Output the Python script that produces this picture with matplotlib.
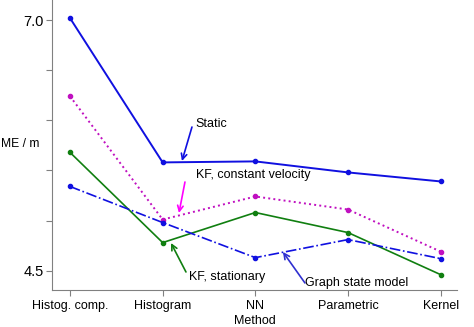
import numpy as np
import matplotlib
matplotlib.use("Agg")
import matplotlib.pyplot as plt

plt.rcParams['font.family'] = ['Liberation Sans', 'DejaVu Sans']

# dane
metody = ["Histog. comp.", "Histogram", "NN", "Parametric", "Kernel"]
static = [7.02, 5.58, 5.59, 5.48, 5.39]
kf_cv = [6.24, 5.01, 5.24, 5.11, 4.69]
kf_stat = [5.68, 4.78, 5.08, 4.88, 4.46]
graph = [5.34, 4.98, 4.63, 4.81, 4.62]

x = np.arange(len(metody))
blue = '#1010e0'
magenta = '#c010c0'
green = '#107f10'
spine_c = '#808080'

fig = plt.figure(figsize=(4.74, 3.27), dpi=100)
ax = fig.add_axes([0.1097, 0.1131, 0.964 - 0.1097, 1 - 0.1131])

ax.plot(x, static, '-', color=blue, linewidth=1.4, marker='o', markersize=3)
ax.plot(x, kf_cv, ':', color=magenta, linewidth=1.4, marker='o', markersize=3)
ax.plot(x, kf_stat, '-', color=green, linewidth=1.2, marker='o', markersize=3)
ax.plot(x, graph, '-.', color=blue, linewidth=1.2, marker='o', markersize=3)

ax.set_xlim(-0.194, 4.175)
ax.set_ylim(4.307, 7.2)
ax.set_yticks([4.5, 5.0, 5.5, 6.0, 6.5, 7.0])
ax.set_yticklabels(['4.5', '', '', '', '', '7.0'])
ax.set_xticks(x)
ax.set_xticklabels(metody)

for s in ['top', 'right']:
    ax.spines[s].set_visible(False)
for s in ['left', 'bottom']:
    ax.spines[s].set_color(spine_c)
ax.tick_params(colors=spine_c, labelcolor='black', labelsize=9, length=4, direction='out')
ax.tick_params(axis='y', labelsize=10.5, pad=2)

ax.set_xlabel('Method', fontsize=9, labelpad=2)
fig.text(1 / 474, 1 - 144 / 327, 'ME / m', ha='left', va='center', fontsize=8.7)

# adnotacje
def strzalka(xy, xytext, kolor):
    ax.annotate('', xy=xy, xytext=xytext,
                arrowprops=dict(arrowstyle='->', color=kolor, lw=1.2, shrinkA=0, shrinkB=0))

def px(xp, yp):
    return ((xp - 70) / 92.7, 4.5 + (270.7 - yp) / 100.3)

strzalka(px(182, 161), px(192, 127), blue)
ax.text(*px(195, 124), 'Static', fontsize=9, va='center')
strzalka(px(179, 213), px(185, 182), '#ff00ff')
ax.text(*px(196, 175), 'KF, constant velocity', fontsize=9, va='center')
strzalka(px(171, 243), px(186, 272), green)
ax.text(*px(189, 277), 'KF, stationary', fontsize=9, va='center')
strzalka(px(283, 252), px(305, 283), '#3030d0')
ax.text(*px(305, 283), 'Graph state model', fontsize=9, va='center')

plt.savefig('out.png', dpi=100)
